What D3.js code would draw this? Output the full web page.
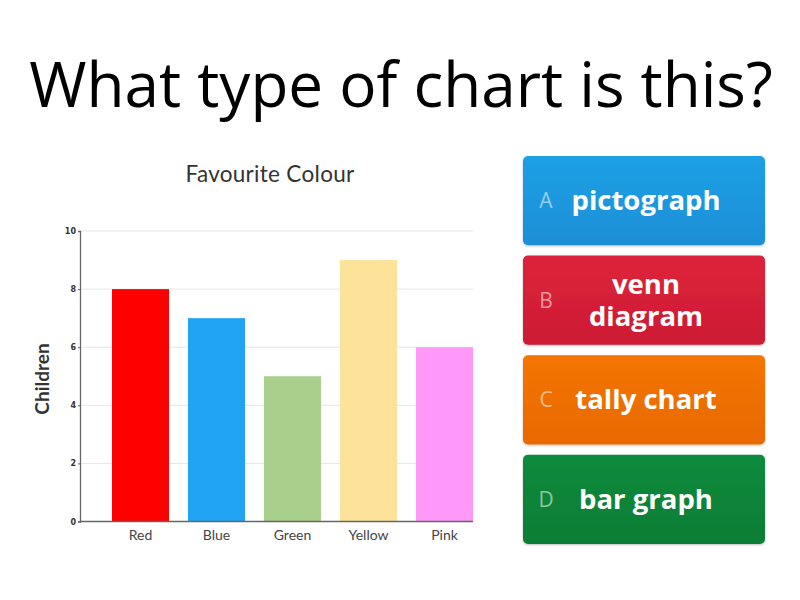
<!DOCTYPE html>
<html>
<head>
<meta charset="utf-8">
<script src="https://cdn.jsdelivr.net/npm/d3@7"></script>
<style>
  html, body { margin: 0; padding: 0; background: #fff; }
  svg { display: block; }
</style>
</head>
<body>
<svg id="chart" width="800" height="600"></svg>
<script>
// ---- data ----
const question = "What type of chart is this?";
const chartTitle = "Favourite Colour";
const yLabel = "Children";
const categories = ["Red", "Blue", "Green", "Yellow", "Pink"];
const values = [8, 7, 5, 9, 6];
const barColors = ["#ff0000", "#22a4f5", "#a8cf8c", "#fde299", "#ff99f9"];
const yTicks = [0, 2, 4, 6, 8, 10];
const answerLetters = ["A", "B", "C", "D"];
const answerTexts = [["pictograph"], ["venn", "diagram"], ["tally chart"], ["bar graph"]];
const answerColors = ["#1fa0e6", "#de223a", "#f47506", "#0b8b3c"];
const answerDark = ["#1a8fd6", "#cc1d34", "#e86905", "#097d35"];

const svg = d3.select("#chart");

// Question title
svg.append("text")
  .attr("x", 401).attr("y", 107)
  .attr("text-anchor", "middle")
  .attr("font-family", "Open Sans")
  .attr("font-size", 62)
  .attr("fill", "#000")
  .text(question);

// ---- bar chart ----
const x = d3.scaleBand().domain(categories).range([112, 473]).paddingInner(0.25).paddingOuter(0);
const y = d3.scaleLinear().domain([0, 10]).range([521.5, 231]);

const g = svg.append("g");

// gridlines
g.selectAll("line.grid").data(yTicks.filter(t => t > 0)).join("line")
  .attr("class", "grid")
  .attr("x1", 80).attr("x2", 473)
  .attr("y1", d => y(d)).attr("y2", d => y(d))
  .attr("stroke", "#e6e6e6").attr("stroke-width", 1);

// bars
g.selectAll("rect.bar").data(categories).join("rect")
  .attr("class", "bar")
  .attr("x", d => x(d))
  .attr("width", x.bandwidth())
  .attr("y", (d, i) => y(values[i]))
  .attr("height", (d, i) => y(0) - y(values[i]))
  .attr("fill", (d, i) => barColors[i]);

// y axis
const yAxis = d3.axisLeft(y).tickValues(yTicks).tickSize(2).tickPadding(2);
const ya = g.append("g").attr("transform", "translate(80,0)").call(yAxis);
ya.select(".domain").attr("stroke", "#666").attr("stroke-width", 1.3);
ya.selectAll(".tick line").attr("stroke", "#666");
ya.selectAll(".tick text")
  .attr("font-family", "DejaVu Sans").attr("font-weight", "bold")
  .attr("font-size", 8).attr("fill", "#333");

// x axis
const xAxis = d3.axisBottom(x).tickSize(0).tickPadding(9);
const xa = g.append("g").attr("transform", `translate(0,${y(0)})`).call(xAxis);
xa.select(".domain").remove();
g.append("line")
  .attr("x1", 80).attr("x2", 473)
  .attr("y1", y(0)).attr("y2", y(0))
  .attr("stroke", "#666").attr("stroke-width", 1.3);
xa.selectAll(".tick text")
  .attr("font-family", "Lato").attr("font-size", 14).attr("fill", "#444");

// chart title
svg.append("text")
  .attr("x", 270).attr("y", 182)
  .attr("text-anchor", "middle")
  .attr("font-family", "Lato").attr("font-size", 22.5).attr("fill", "#333")
  .attr("letter-spacing", 0.3)
  .text(chartTitle);

// y label
svg.append("text")
  .attr("transform", "translate(49,379) rotate(-90)")
  .attr("text-anchor", "middle")
  .attr("font-family", "Lato").attr("font-weight", "bold")
  .attr("font-size", 19).attr("fill", "#333")
  .text(yLabel);

// ---- answer buttons ----
const defs = svg.append("defs");
const filt = defs.append("filter").attr("id", "sh").attr("x", "-10%").attr("y", "-10%").attr("width", "120%").attr("height", "130%");
filt.append("feDropShadow").attr("dx", 0).attr("dy", 1).attr("stdDeviation", 1.2).attr("flood-color", "#000").attr("flood-opacity", 0.25);

answerColors.forEach((c, i) => {
  const gr = defs.append("linearGradient").attr("id", "gr" + i).attr("x1", 0).attr("y1", 0).attr("x2", 0).attr("y2", 1);
  gr.append("stop").attr("offset", "0%").attr("stop-color", c);
  gr.append("stop").attr("offset", "100%").attr("stop-color", answerDark[i]);
});

const btnY = d3.scaleBand().domain(answerLetters).range([156, 544]).paddingInner(0.105).paddingOuter(0);

const btn = svg.selectAll("g.btn").data(answerLetters).join("g")
  .attr("class", "btn")
  .attr("transform", d => `translate(523,${btnY(d)})`);

btn.append("rect")
  .attr("width", 242).attr("height", btnY.bandwidth())
  .attr("rx", 5).attr("ry", 5)
  .attr("fill", (d, i) => `url(#gr${i})`)
  .attr("filter", "url(#sh)");

btn.append("text")
  .attr("x", 23).attr("y", btnY.bandwidth() / 2 + 7.5)
  .attr("text-anchor", "middle")
  .attr("font-family", "Open Sans").attr("font-size", 21)
  .attr("fill", "#fff").attr("fill-opacity", 0.55)
  .text(d => d);

btn.each(function (d, i) {
  const lines = answerTexts[i];
  const h = btnY.bandwidth();
  const lh = 32;
  lines.forEach((ln, k) => {
    d3.select(this).append("text")
      .attr("text-anchor", "middle")
      .attr("font-family", "Open Sans").attr("font-weight", "bold")
      .attr("font-size", 27.5).attr("fill", "#fff")
      .attr("x", 123)
      .attr("y", h / 2 + 9.5 + (k - (lines.length - 1) / 2) * lh)
      .text(ln);
  });
});
</script>
</body>
</html>
